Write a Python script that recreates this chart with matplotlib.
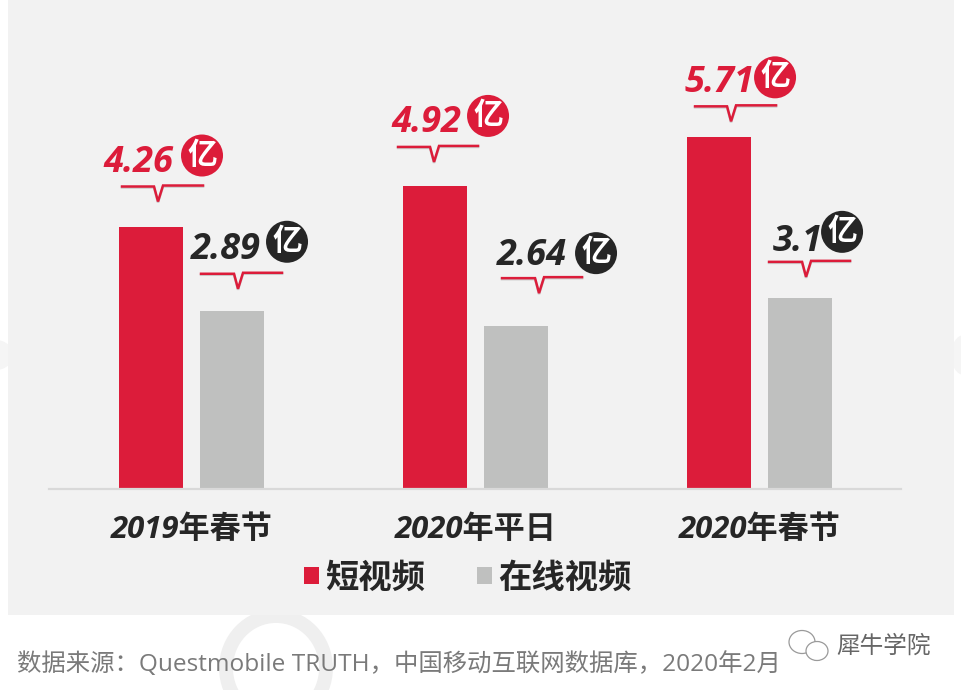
import matplotlib
matplotlib.use("Agg")
import numpy as np
import matplotlib.pyplot as plt
from matplotlib.patches import Rectangle, Circle, Ellipse
from matplotlib.transforms import Affine2D

categories = ["2019年春节", "2020年平日", "2020年春节"]
short_video = [4.26, 4.92, 5.71]
online_video = [2.89, 2.64, 3.1]
short_labels = ["4.26", "4.92", "5.71"]
online_labels = ["2.89", "2.64", "3.1"]
series_names = ["短视频", "在线视频"]
source_text = "数据来源：Questmobile TRUTH，中国移动互联网数据库，2020年2月"
logo_text = "犀牛学院"

RED = "#DC1C3A"
DARK = "#262626"
GREY = "#BFC0BF"
W, H = 962, 690

plt.rcParams["font.family"] = ["Open Sans", "Noto Sans CJK SC", "DejaVu Sans"]


def fx(px):
    return px / W


def fy(py):
    return 1 - py / H


fig = plt.figure(figsize=(W / 100, H / 100), dpi=100, facecolor="white")

# faint watermark behind the panel, then the panel itself
wm = dict(transform=fig.transFigure, zorder=-3)
fig.add_artist(Ellipse((fx(276), fy(668)), 100 / W, 104 / H, fc="none", ec="#efefef", lw=10, **wm))
fig.add_artist(Ellipse((fx(-4), fy(355)), 34 / W, 30 / H, fc="#f5f5f5", ec="none", **wm))
fig.add_artist(Ellipse((fx(964), fy(355)), 26 / W, 40 / H, fc="#f5f5f5", ec="none", **wm))
fig.add_artist(Rectangle((fx(8), fy(615)), 946 / W, 615 / H, fc="#F2F2F2", ec="none",
                         transform=fig.transFigure, zorder=-2))

ax = fig.add_axes([fx(49), fy(488.5), 852 / W, 488.5 / H])
ax.patch.set_alpha(0)
x = np.arange(len(categories))
off = 40.5 / 284
bw = 64 / 284
b1 = ax.bar(x - off, short_video, bw, color=RED, label=series_names[0])
b2 = ax.bar(x + off, online_video, bw, color=GREY, label=series_names[1])
ax.set_xlim(-0.5018, 2.498)
ax.set_ylim(0, 488.5 / 61.5)
ax.set_yticks([])
ax.set_xticks(x)
ax.set_xticklabels(categories, fontsize=22.4, fontweight="bold", style="italic", color=DARK)
ax.tick_params(axis="x", length=0, pad=19)
for s in ["top", "left", "right"]:
    ax.spines[s].set_visible(False)
ax.spines["bottom"].set_color("#D9D9D9")
ax.spines["bottom"].set_linewidth(1.6)

# callout layout in pixels relative to the top centre of each bar:
# text dx, text dy, badge dx, badge dy, line left, line right, line dy, notch dx
short_layout = [(-13, 64, 51, 71, -29, 52, 40, 8),
                (-9, 63, 53, 70, -37, 43, 39, 0),
                (0, 54, 56, 60, -24, 57, 31, 13)]
online_layout = [(-6, 61, 55, 69, -31, 50, 37, 7),
                 (16, 70, 80, 73, -14, 66, 48, 24),
                 (-2, 56, 42, 66, -31, 50, 36, 7)]


def callout(xv, yv, text, layout, color):
    tx, ty, cx, cy, l0, l1, ly, nx = layout
    ax0, ay0 = ax.transData.transform((xv, yv))
    tr = Affine2D().translate(ax0, ay0)
    ax.annotate(text, (xv, yv), xytext=(tx, ty), textcoords="offset pixels", ha="center", va="center",
                fontsize=26, fontweight="bold", style="italic", color=color, zorder=5)
    ax.add_patch(Circle((cx, cy), 21, fc=color, ec="none", transform=tr, zorder=5, clip_on=False))
    ax.annotate("亿", (xv, yv), xytext=(cx, cy), textcoords="offset pixels", ha="center", va="center",
                fontsize=21.5, fontweight="bold", style="italic", color="white", zorder=6)
    xs = [l0, nx - 5, nx - 1, nx + 4, l1]
    ys = [ly, ly, ly - 15, ly + 1, ly + 1]
    ax.plot(xs, ys, color="#C9C9C9", lw=1.8, transform=tr + Affine2D().translate(0, -1),
            zorder=4, clip_on=False, solid_joinstyle="miter")
    ax.plot(xs, ys, color=RED, lw=1.8, transform=tr, zorder=4, clip_on=False, solid_joinstyle="miter")


for i in range(len(categories)):
    callout(x[i] - off, short_video[i], short_labels[i], short_layout[i], RED)
    callout(x[i] + off, online_video[i], online_labels[i], online_layout[i], DARK)

leg = fig.legend(handles=[b1, b2], loc="center", bbox_to_anchor=(fx(468), fy(579)), ncol=2, frameon=False,
                 prop={"size": 24, "weight": "bold", "style": "italic"}, handlelength=0.44, handleheight=0.44,
                 handletextpad=0.2, columnspacing=1.55, labelcolor=DARK)

fig.text(fx(17), fy(665), source_text, fontsize=17.55, color="#7A7A7A", va="center", ha="left")

# wechat-style logo
icon = dict(transform=fig.transFigure, fc="white", ec="#9a9a9a", lw=0.9)
fig.add_artist(Ellipse((fx(802), fy(642)), 26 / W, 23 / H, **icon))
fig.add_artist(Ellipse((fx(817), fy(651)), 22 / W, 19 / H, **icon))
fig.text(fx(836), fy(647), logo_text, fontsize=17, color="#666666", va="center", ha="left")

fig.savefig("out.png", dpi=100, facecolor="white")
